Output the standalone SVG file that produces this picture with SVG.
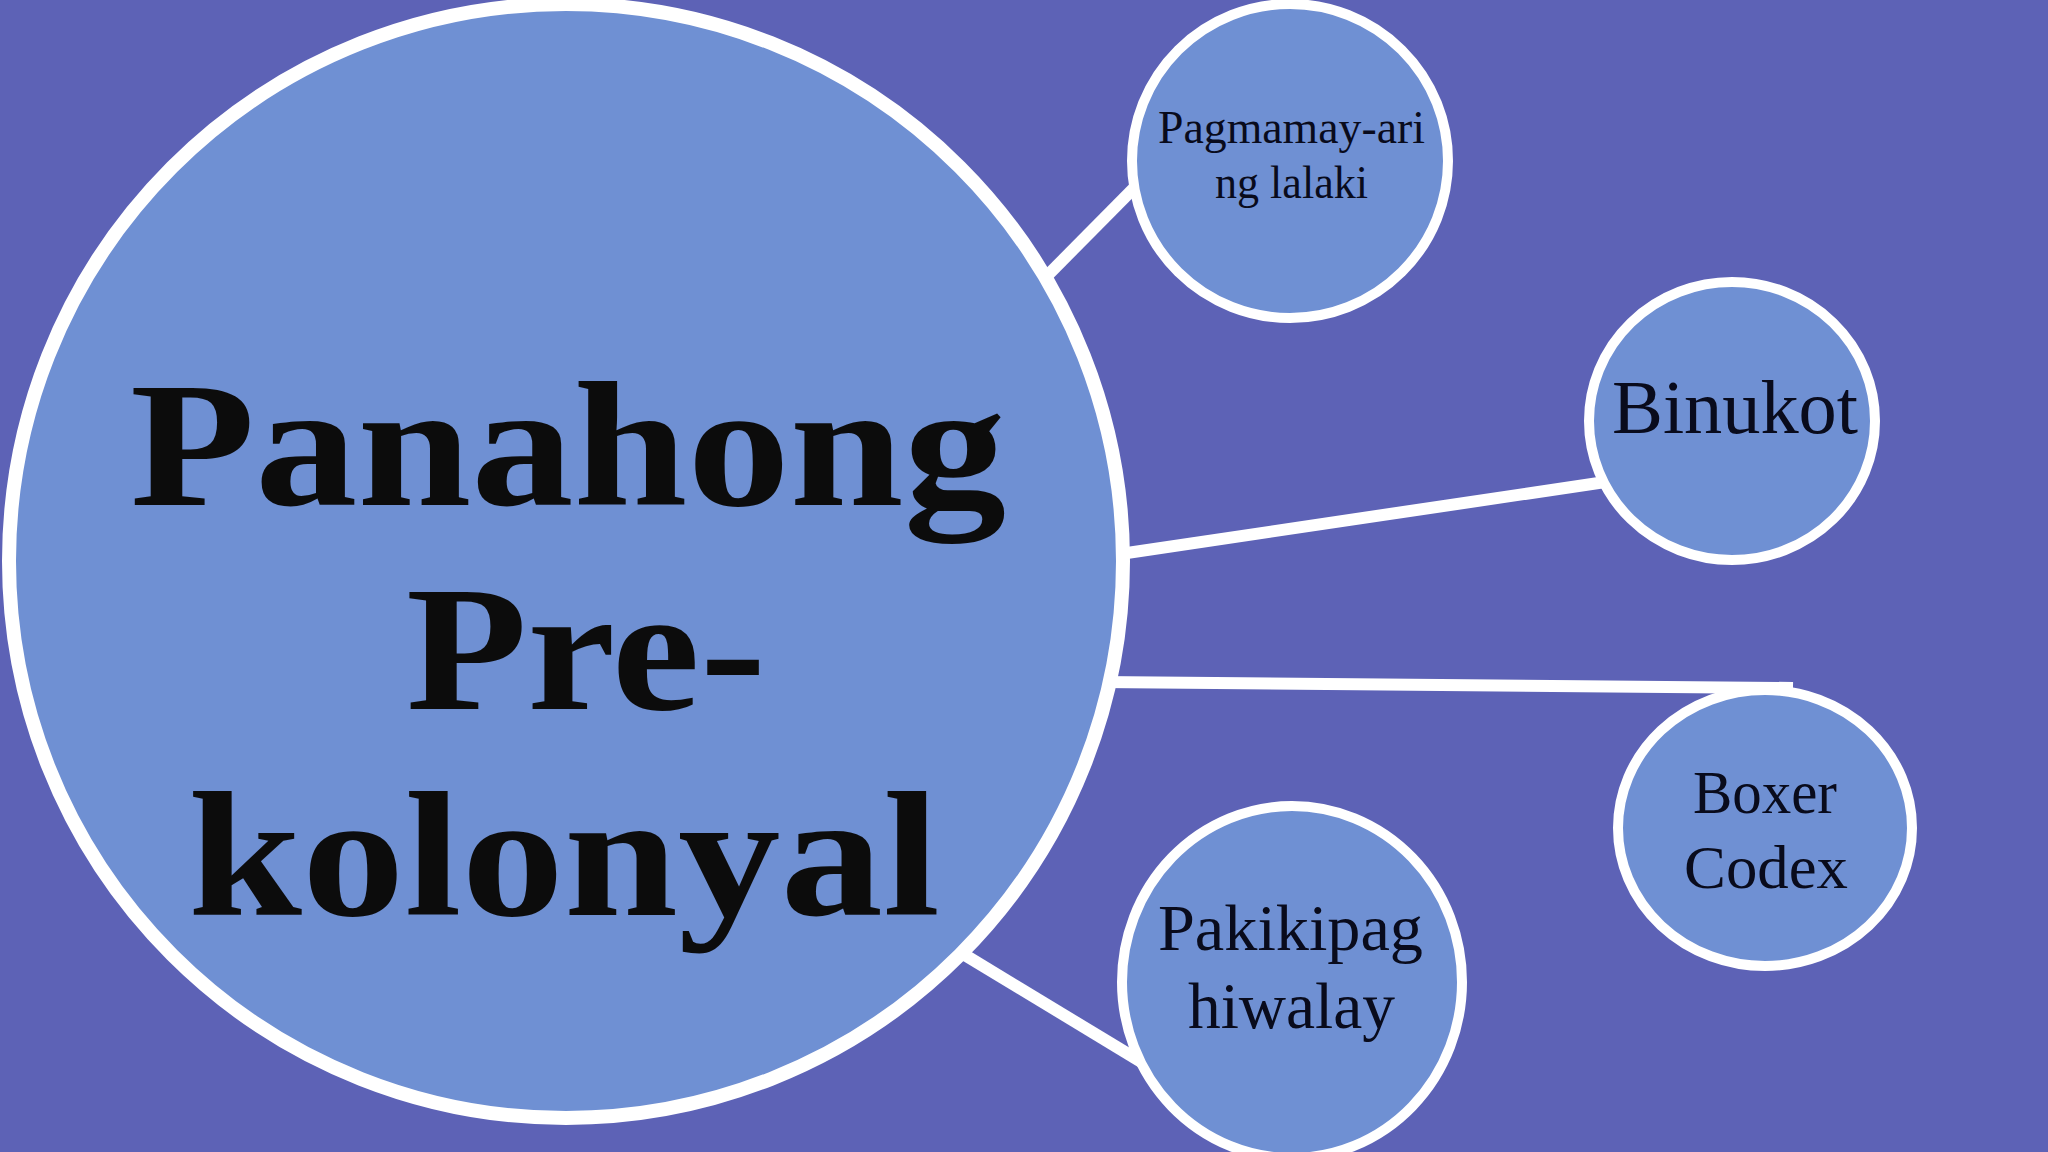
<svg xmlns="http://www.w3.org/2000/svg" width="2048" height="1152" viewBox="0 0 2048 1152">
  <style>
    .bg { fill: #5d62b6; }
    .node { fill: #6f90d3; stroke: #ffffff; stroke-width: 10; }
    .main { fill: #6f90d3; stroke: #ffffff; stroke-width: 14; }
    .conn { stroke: #ffffff; stroke-width: 12; fill: none; stroke-linecap: butt; }
    .big { font-family: "Liberation Serif", "DejaVu Serif", serif; font-weight: bold; font-size: 178px; fill: #0c0c0c; }
    .lbl { font-family: "Liberation Serif", "DejaVu Serif", serif; fill: #090b1c; }
  </style>
  <rect class="bg" x="0" y="0" width="2048" height="1152"/>

  <g id="connectors">
    <line class="conn" x1="1040" y1="283" x2="1140" y2="182"/>
    <line class="conn" x1="1100" y1="557" x2="1612" y2="481"/>
    <line class="conn" x1="1100" y1="682" x2="1793" y2="688"/>
    <line class="conn" x1="950" y1="946" x2="1158" y2="1072"/>
  </g>

  <g id="node-main">
    <circle class="main" cx="566" cy="561" r="557"/>
    <text class="big" x="130" y="505" textLength="876" lengthAdjust="spacingAndGlyphs">Panahong</text>
    <text class="big" x="406" y="709" textLength="360" lengthAdjust="spacingAndGlyphs">Pre-</text>
    <text class="big" x="188" y="915" textLength="752" lengthAdjust="spacingAndGlyphs">kolonyal</text>
  </g>

  <g id="node-pagmamay-ari">
    <ellipse class="node" cx="1290" cy="161" rx="158" ry="157"/>
    <text class="lbl" font-size="46" x="1158" y="143" textLength="267" lengthAdjust="spacingAndGlyphs">Pagmamay-ari</text>
    <text class="lbl" font-size="46" x="1215" y="198" textLength="153" lengthAdjust="spacingAndGlyphs">ng lalaki</text>
  </g>

  <g id="node-binukot">
    <ellipse class="node" cx="1732" cy="421" rx="143" ry="139"/>
    <text class="lbl" font-size="76" x="1612" y="433" textLength="246" lengthAdjust="spacingAndGlyphs">Binukot</text>
  </g>

  <g id="node-boxer-codex">
    <ellipse class="node" cx="1765" cy="828" rx="147" ry="138"/>
    <text class="lbl" font-size="62" x="1693" y="813" textLength="144" lengthAdjust="spacingAndGlyphs">Boxer</text>
    <text class="lbl" font-size="62" x="1684" y="888" textLength="164" lengthAdjust="spacingAndGlyphs">Codex</text>
  </g>

  <g id="node-pakikipag-hiwalay">
    <ellipse class="node" cx="1292" cy="982" rx="170" ry="176"/>
    <text class="lbl" font-size="66" x="1158" y="950" textLength="265" lengthAdjust="spacingAndGlyphs">Pakikipag</text>
    <text class="lbl" font-size="66" x="1188" y="1028" textLength="207" lengthAdjust="spacingAndGlyphs">hiwalay</text>
  </g>
</svg>
